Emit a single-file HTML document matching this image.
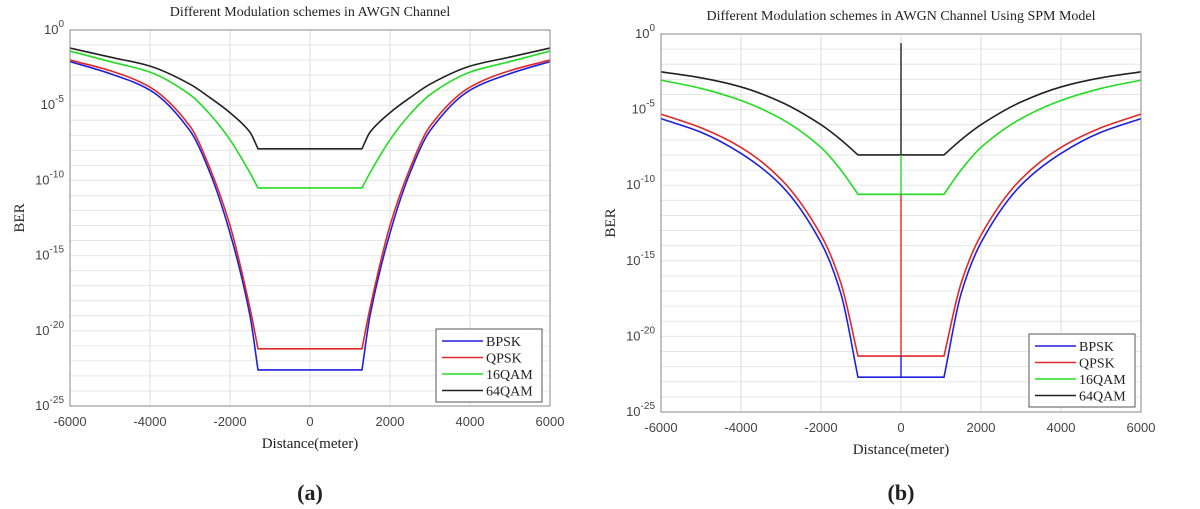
<!DOCTYPE html>
<html><head><meta charset="utf-8"><style>
body{margin:0;background:#fff;width:1200px;height:509px;overflow:hidden}
svg{display:block}
.t{font-family:"Liberation Serif",serif;fill:#222}
.k{font-family:"Liberation Sans",sans-serif;fill:#444;font-size:13px}
</style></head><body>
<svg id="c" width="1200" height="509"></svg>
<script>
const xTicks=[-6000,-4000,-2000,0,2000,4000,6000];
const yTicks=[0,-5,-10,-15,-20,-25];
const seriesNames=["BPSK","QPSK","16QAM","64QAM"];
const seriesColors=["#1f1fe0","#e02828","#22dd22","#222222"];
const distA=[-6000,-5000,-4000,-3000,-2500,-2000,-1500,-1300];
const bpskA=[-2.1,-2.9,-4.0,-6.7,-9.5,-13.5,-19,-22.6];
const qpskA=[-2.0,-2.7,-3.8,-6.4,-9.2,-13.0,-18.5,-21.2];
const qam16A=[-1.4,-2.1,-2.8,-4.3,-5.6,-7.3,-9.5,-10.5];
const qam64A=[-1.2,-1.8,-2.4,-3.6,-4.5,-5.5,-6.8,-7.9];
const distB=[-6000,-5000,-4000,-3000,-2000,-1500,-1075];
const bpskB=[-5.6,-6.5,-7.9,-10.0,-13.8,-17.2,-22.7];
const qpskB=[-5.3,-6.2,-7.5,-9.6,-13.3,-16.5,-21.3];
const qam16B=[-3.05,-3.6,-4.4,-5.6,-7.5,-9.0,-10.6];
const qam64B=[-2.5,-2.9,-3.5,-4.5,-6.0,-7.0,-8.0];
const spikeTopB=-0.6;
const NS="http://www.w3.org/2000/svg";
const svg=document.getElementById('c');
function mk(tag,attrs,parent,text){const e=document.createElementNS(NS,tag);for(const k in attrs)e.setAttribute(k,attrs[k]);if(text!==undefined)e.textContent=text;(parent||svg).appendChild(e);return e;}
// monotone cubic path through pixel points
function smooth(p){
  const n=p.length,d=[],m=[];
  for(let i=0;i<n-1;i++)d.push((p[i+1][1]-p[i][1])/(p[i+1][0]-p[i][0]));
  m[0]=d[0];m[n-1]=d[n-2];
  for(let i=1;i<n-1;i++){m[i]=(d[i-1]*d[i]<=0)?0:2/(1/d[i-1]+1/d[i]);}
  let s='M'+p[0][0]+','+p[0][1];
  for(let i=0;i<n-1;i++){const h=(p[i+1][0]-p[i][0])/3;
    s+=` C${p[i][0]+h},${p[i][1]+m[i]*h} ${p[i+1][0]-h},${p[i+1][1]-m[i+1]*h} ${p[i+1][0]},${p[i+1][1]}`;}
  return s;
}
function chart(o){
  const g=mk('g',{});
  
  
  const X=v=>o.L+(v+6000)/12000*(o.R-o.L);
  const Y=v=>o.T+(0-v)/25*(o.B-o.T);
  mk('rect',{x:o.L,y:o.T,width:o.R-o.L,height:o.B-o.T,fill:'#fff'},g);
  for(let d=-1;d>-25;d--){const l=mk('line',{x1:o.L,x2:o.R,y1:Y(d),y2:Y(d),stroke:'#e6e6e6','stroke-width':1},g);
  }
  xTicks.forEach(t=>{const l=mk('line',{x1:X(t),x2:X(t),y1:o.T,y2:o.B,stroke:'#dcdcdc'},g);
  
  const tx=mk('text',{x:X(t),y:o.B+20,'text-anchor':'middle',class:'k'},g,String(t));
  });
  yTicks.forEach(t=>{const tx=mk('text',{x:o.L-6,y:Y(t)+4,'text-anchor':'end',class:'k'},g);
  
  mk('tspan',{},tx,'10');mk('tspan',{dy:-7,'font-size':10},tx,String(t));});
  const sers=[o.bpsk,o.qpsk,o.q16,o.q64];
  sers.forEach((s,i)=>{
    const left=o.dist.map((d,j)=>[X(d),Y(s[j])]);
    const right=o.dist.map((d,j)=>[X(-d),Y(s[j])]).reverse();
    const last=left[left.length-1];
    let dstr=smooth(left)+` L${right[0][0]},${right[0][1]} `+smooth(right).replace('M','L');
    const p=mk('path',{d:dstr,fill:'none',stroke:seriesColors[i],'stroke-width':1.6},g);
    
  });
  if(o.spike!==undefined){
    const lv=[o.spike,o.q64[o.q64.length-1],o.q16[o.q16.length-1],o.qpsk[o.qpsk.length-1],o.bpsk[o.bpsk.length-1]];
    const cs=[seriesColors[3],seriesColors[2],seriesColors[1],seriesColors[0]];
    for(let i=0;i<4;i++){const l=mk('line',{x1:X(0),x2:X(0),y1:Y(lv[i]),y2:Y(lv[i+1]),stroke:cs[i],'stroke-width':1.4},g);
    }
  }
  const ax=mk('rect',{x:o.L,y:o.T,width:o.R-o.L,height:o.B-o.T,fill:'none',stroke:'#888'},g);
  
  const ti=mk('text',{x:(o.L+o.R)/2,y:o.T-14,'text-anchor':'middle',class:'t','font-size':14},g,o.title);
  
  const xl=mk('text',{x:(o.L+o.R)/2,y:o.B+42,'text-anchor':'middle',class:'t','font-size':15},g,'Distance(meter)');
  
  const yl=mk('text',{x:o.L-46,y:(o.T+o.B)/2,'text-anchor':'middle',class:'t','font-size':15,transform:`rotate(-90 ${o.L-46} ${(o.T+o.B)/2})`},g,'BER');
  
  const lg=mk('g',{},g);
  
  mk('rect',{x:o.lx,y:o.ly,width:106,height:73,fill:'#fff',stroke:'#555'},lg);
  seriesNames.forEach((n,i)=>{const yy=o.ly+12+i*16.5;
    mk('line',{x1:o.lx+6,x2:o.lx+47,y1:yy,y2:yy,stroke:seriesColors[i],'stroke-width':1.6},lg);
    const e=mk('text',{x:o.lx+50,y:yy+5,class:'t','font-size':14},lg,n);
    });
  const lab=mk('text',{x:(o.L+o.R)/2,y:500,'text-anchor':'middle',class:'t','font-size':22,'font-weight':'bold',fill:'#000'},g,o.label);
  
}
chart({name:'chart-a',L:70,R:550,T:30,B:406,dist:distA,bpsk:bpskA,qpsk:qpskA,q16:qam16A,q64:qam64A,title:'Different Modulation schemes in AWGN Channel',lx:436,ly:329,label:'(a)'});
chart({name:'chart-b',L:661,R:1141,T:34,B:412,dist:distB,bpsk:bpskB,qpsk:qpskB,q16:qam16B,q64:qam64B,spike:spikeTopB,title:'Different Modulation schemes in AWGN Channel Using SPM Model',lx:1029,ly:334,label:'(b)'});
</script>
</body></html>
